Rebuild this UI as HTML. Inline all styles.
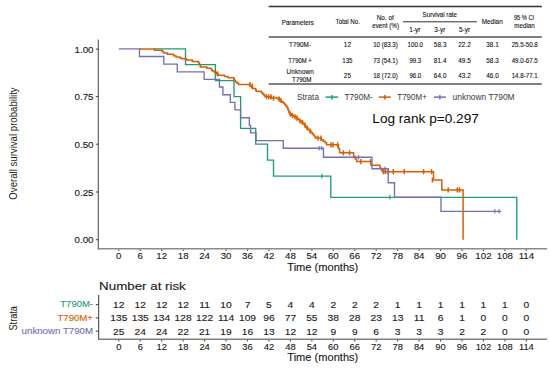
<!DOCTYPE html>
<html><head><meta charset="utf-8"><title>Kaplan-Meier</title>
<style>
html,body{margin:0;padding:0;background:#fff;}
body{width:550px;height:368px;overflow:hidden;}
svg{display:block;font-family:"Liberation Sans",sans-serif;}
</style></head>
<body>
<svg width="550" height="368" viewBox="0 0 550 368">
<rect width="550" height="368" fill="#fff"/>
<line x1="98.3" y1="39.5" x2="98.3" y2="249.6" stroke="#636363" stroke-width="1.2"/>
<line x1="97.7" y1="248.8" x2="547" y2="248.8" stroke="#8a8a8a" stroke-width="1.6"/>
<line x1="95.8" y1="49.1" x2="98.3" y2="49.1" stroke="#4d4d4d" stroke-width="1.1"/>
<text transform="translate(93.50,52.60) scale(1.0,1)" font-size="9.9" text-anchor="end" fill="#1a1a1a" textLength="19.00" lengthAdjust="spacingAndGlyphs" stroke="#1a1a1a" stroke-width="0.15">1.00</text>
<line x1="95.8" y1="96.5" x2="98.3" y2="96.5" stroke="#4d4d4d" stroke-width="1.1"/>
<text transform="translate(93.50,100.00) scale(1.0,1)" font-size="9.9" text-anchor="end" fill="#1a1a1a" textLength="19.00" lengthAdjust="spacingAndGlyphs" stroke="#1a1a1a" stroke-width="0.15">0.75</text>
<line x1="95.8" y1="144.2" x2="98.3" y2="144.2" stroke="#4d4d4d" stroke-width="1.1"/>
<text transform="translate(93.50,147.70) scale(1.0,1)" font-size="9.9" text-anchor="end" fill="#1a1a1a" textLength="19.00" lengthAdjust="spacingAndGlyphs" stroke="#1a1a1a" stroke-width="0.15">0.50</text>
<line x1="95.8" y1="192.0" x2="98.3" y2="192.0" stroke="#4d4d4d" stroke-width="1.1"/>
<text transform="translate(93.50,195.50) scale(1.0,1)" font-size="9.9" text-anchor="end" fill="#1a1a1a" textLength="19.00" lengthAdjust="spacingAndGlyphs" stroke="#1a1a1a" stroke-width="0.15">0.25</text>
<line x1="95.8" y1="239.7" x2="98.3" y2="239.7" stroke="#4d4d4d" stroke-width="1.1"/>
<text transform="translate(93.50,243.20) scale(1.0,1)" font-size="9.9" text-anchor="end" fill="#1a1a1a" textLength="19.00" lengthAdjust="spacingAndGlyphs" stroke="#1a1a1a" stroke-width="0.15">0.00</text>
<line x1="118.80" y1="249.6" x2="118.80" y2="251.0" stroke="#4d4d4d" stroke-width="1.1"/>
<text transform="translate(118.80,259.40) scale(1.09,1)" font-size="8.9" text-anchor="middle" fill="#1a1a1a" stroke="#1a1a1a" stroke-width="0.12">0</text>
<line x1="140.25" y1="249.6" x2="140.25" y2="251.0" stroke="#4d4d4d" stroke-width="1.1"/>
<text transform="translate(140.25,259.40) scale(1.09,1)" font-size="8.9" text-anchor="middle" fill="#1a1a1a" stroke="#1a1a1a" stroke-width="0.12">6</text>
<line x1="161.70" y1="249.6" x2="161.70" y2="251.0" stroke="#4d4d4d" stroke-width="1.1"/>
<text transform="translate(161.70,259.40) scale(1.09,1)" font-size="8.9" text-anchor="middle" fill="#1a1a1a" stroke="#1a1a1a" stroke-width="0.12">12</text>
<line x1="183.15" y1="249.6" x2="183.15" y2="251.0" stroke="#4d4d4d" stroke-width="1.1"/>
<text transform="translate(183.15,259.40) scale(1.09,1)" font-size="8.9" text-anchor="middle" fill="#1a1a1a" stroke="#1a1a1a" stroke-width="0.12">18</text>
<line x1="204.60" y1="249.6" x2="204.60" y2="251.0" stroke="#4d4d4d" stroke-width="1.1"/>
<text transform="translate(204.60,259.40) scale(1.09,1)" font-size="8.9" text-anchor="middle" fill="#1a1a1a" stroke="#1a1a1a" stroke-width="0.12">24</text>
<line x1="226.05" y1="249.6" x2="226.05" y2="251.0" stroke="#4d4d4d" stroke-width="1.1"/>
<text transform="translate(226.05,259.40) scale(1.09,1)" font-size="8.9" text-anchor="middle" fill="#1a1a1a" stroke="#1a1a1a" stroke-width="0.12">30</text>
<line x1="247.50" y1="249.6" x2="247.50" y2="251.0" stroke="#4d4d4d" stroke-width="1.1"/>
<text transform="translate(247.50,259.40) scale(1.09,1)" font-size="8.9" text-anchor="middle" fill="#1a1a1a" stroke="#1a1a1a" stroke-width="0.12">36</text>
<line x1="268.95" y1="249.6" x2="268.95" y2="251.0" stroke="#4d4d4d" stroke-width="1.1"/>
<text transform="translate(268.95,259.40) scale(1.09,1)" font-size="8.9" text-anchor="middle" fill="#1a1a1a" stroke="#1a1a1a" stroke-width="0.12">42</text>
<line x1="290.40" y1="249.6" x2="290.40" y2="251.0" stroke="#4d4d4d" stroke-width="1.1"/>
<text transform="translate(290.40,259.40) scale(1.09,1)" font-size="8.9" text-anchor="middle" fill="#1a1a1a" stroke="#1a1a1a" stroke-width="0.12">48</text>
<line x1="311.85" y1="249.6" x2="311.85" y2="251.0" stroke="#4d4d4d" stroke-width="1.1"/>
<text transform="translate(311.85,259.40) scale(1.09,1)" font-size="8.9" text-anchor="middle" fill="#1a1a1a" stroke="#1a1a1a" stroke-width="0.12">54</text>
<line x1="333.30" y1="249.6" x2="333.30" y2="251.0" stroke="#4d4d4d" stroke-width="1.1"/>
<text transform="translate(333.30,259.40) scale(1.09,1)" font-size="8.9" text-anchor="middle" fill="#1a1a1a" stroke="#1a1a1a" stroke-width="0.12">60</text>
<line x1="354.75" y1="249.6" x2="354.75" y2="251.0" stroke="#4d4d4d" stroke-width="1.1"/>
<text transform="translate(354.75,259.40) scale(1.09,1)" font-size="8.9" text-anchor="middle" fill="#1a1a1a" stroke="#1a1a1a" stroke-width="0.12">66</text>
<line x1="376.20" y1="249.6" x2="376.20" y2="251.0" stroke="#4d4d4d" stroke-width="1.1"/>
<text transform="translate(376.20,259.40) scale(1.09,1)" font-size="8.9" text-anchor="middle" fill="#1a1a1a" stroke="#1a1a1a" stroke-width="0.12">72</text>
<line x1="397.65" y1="249.6" x2="397.65" y2="251.0" stroke="#4d4d4d" stroke-width="1.1"/>
<text transform="translate(397.65,259.40) scale(1.09,1)" font-size="8.9" text-anchor="middle" fill="#1a1a1a" stroke="#1a1a1a" stroke-width="0.12">78</text>
<line x1="419.10" y1="249.6" x2="419.10" y2="251.0" stroke="#4d4d4d" stroke-width="1.1"/>
<text transform="translate(419.10,259.40) scale(1.09,1)" font-size="8.9" text-anchor="middle" fill="#1a1a1a" stroke="#1a1a1a" stroke-width="0.12">84</text>
<line x1="440.55" y1="249.6" x2="440.55" y2="251.0" stroke="#4d4d4d" stroke-width="1.1"/>
<text transform="translate(440.55,259.40) scale(1.09,1)" font-size="8.9" text-anchor="middle" fill="#1a1a1a" stroke="#1a1a1a" stroke-width="0.12">90</text>
<line x1="462.00" y1="249.6" x2="462.00" y2="251.0" stroke="#4d4d4d" stroke-width="1.1"/>
<text transform="translate(462.00,259.40) scale(1.09,1)" font-size="8.9" text-anchor="middle" fill="#1a1a1a" stroke="#1a1a1a" stroke-width="0.12">96</text>
<line x1="483.45" y1="249.6" x2="483.45" y2="251.0" stroke="#4d4d4d" stroke-width="1.1"/>
<text transform="translate(483.45,259.40) scale(1.09,1)" font-size="8.9" text-anchor="middle" fill="#1a1a1a" stroke="#1a1a1a" stroke-width="0.12">102</text>
<line x1="504.90" y1="249.6" x2="504.90" y2="251.0" stroke="#4d4d4d" stroke-width="1.1"/>
<text transform="translate(504.90,259.40) scale(1.09,1)" font-size="8.9" text-anchor="middle" fill="#1a1a1a" stroke="#1a1a1a" stroke-width="0.12">108</text>
<line x1="526.35" y1="249.6" x2="526.35" y2="251.0" stroke="#4d4d4d" stroke-width="1.1"/>
<text transform="translate(526.35,259.40) scale(1.09,1)" font-size="8.9" text-anchor="middle" fill="#1a1a1a" stroke="#1a1a1a" stroke-width="0.12">114</text>
<text transform="translate(17.2,143.5) rotate(-90) scale(1,1.17)" font-size="9.6" text-anchor="middle" fill="#1a1a1a" textLength="112.3" lengthAdjust="spacingAndGlyphs">Overall survival probability</text>
<text transform="translate(322.80,271.00) scale(1.09,1)" font-size="10.2" text-anchor="middle" fill="#1a1a1a" textLength="65.14" lengthAdjust="spacingAndGlyphs" stroke="#1a1a1a" stroke-width="0.12">Time (months)</text>
<path d="M154.00,48.90H185.50V64.60H215.40V80.60H234.00V96.60H240.60V128.30H255.70V144.10H267.50V160.10H273.50V176.10H330.80V197.30H516.80V239.70" fill="none" stroke="#1B9E77" stroke-width="1.35" stroke-linejoin="miter"/>
<path d="M321.80,173.80V178.40" stroke="#1B9E77" stroke-width="1.1"/>
<path d="M389.90,195.00V199.60" stroke="#1B9E77" stroke-width="1.1"/>
<path d="M139.00,48.90H154.50V50.20H162.30V51.60H163.60V53.00H167.50V54.30H173.50V55.70H176.00V57.00H180.00V57.90H181.80V58.80H186.40V60.10H192.30V61.40H198.50V62.80H199.30V64.20H200.00V65.60H200.50V67.00H206.80V68.30H211.40V69.70H212.30V71.10H214.50V72.50H216.50V74.00H218.20V75.20H224.50V76.50H228.00V77.80H233.80V79.20H234.50V80.60H235.50V82.00H237.00V83.30H238.60V84.50H250.00V86.00H251.50V87.40H252.70V88.60H255.70V90.00H256.20V91.30H261.40V92.70H262.70V94.10H264.00V95.50H265.00V96.80H271.00V98.00H278.20V99.20H279.80V100.50H281.50V101.80H283.20V103.00H284.60V104.50H285.80V106.00H287.00V107.60H287.80V109.20H288.40V110.80H289.00V112.40H289.60V114.00H291.50V115.40H294.00V116.80H296.40V118.20H298.00V119.60H299.50V121.00H301.20V122.40H303.00V123.80H304.50V125.20H305.30V126.60H306.50V128.00H308.00V129.50H309.50V131.00H311.00V132.50H312.30V134.00H313.50V135.50H314.60V137.00H316.00V138.20H321.20V139.80H323.20V141.30H325.10V142.80H326.60V144.80H338.40V148.50H339.60V152.80H353.60V156.50H355.20V159.00H356.60V161.60H371.00V165.20H380.00V168.30H381.50V170.20H382.50V171.70H433.50V180.10H441.80V189.90H463.10V239.70" fill="none" stroke="#D95F02" stroke-width="1.5" stroke-linejoin="miter"/>
<path d="M217.60,71.40V76.60" stroke="#D95F02" stroke-width="1.5"/>
<path d="M250.00,81.90V87.10" stroke="#D95F02" stroke-width="1.5"/>
<path d="M252.30,83.40V88.60" stroke="#D95F02" stroke-width="1.5"/>
<path d="M266.50,94.20V99.40" stroke="#D95F02" stroke-width="1.5"/>
<path d="M268.80,94.20V99.40" stroke="#D95F02" stroke-width="1.5"/>
<path d="M271.00,94.20V99.40" stroke="#D95F02" stroke-width="1.5"/>
<path d="M273.50,95.60V100.80" stroke="#D95F02" stroke-width="1.5"/>
<path d="M279.20,96.60V101.80" stroke="#D95F02" stroke-width="1.5"/>
<path d="M281.00,97.90V103.10" stroke="#D95F02" stroke-width="1.5"/>
<path d="M290.30,111.40V116.60" stroke="#D95F02" stroke-width="1.5"/>
<path d="M292.50,112.80V118.00" stroke="#D95F02" stroke-width="1.5"/>
<path d="M295.00,114.20V119.40" stroke="#D95F02" stroke-width="1.5"/>
<path d="M297.00,115.60V120.80" stroke="#D95F02" stroke-width="1.5"/>
<path d="M300.00,118.40V123.60" stroke="#D95F02" stroke-width="1.5"/>
<path d="M302.50,119.80V125.00" stroke="#D95F02" stroke-width="1.5"/>
<path d="M305.00,122.60V127.80" stroke="#D95F02" stroke-width="1.5"/>
<path d="M307.20,125.40V130.60" stroke="#D95F02" stroke-width="1.5"/>
<path d="M310.00,128.40V133.60" stroke="#D95F02" stroke-width="1.5"/>
<path d="M318.00,135.60V140.80" stroke="#D95F02" stroke-width="1.5"/>
<path d="M320.90,135.60V140.80" stroke="#D95F02" stroke-width="1.5"/>
<path d="M331.00,142.20V147.40" stroke="#D95F02" stroke-width="1.5"/>
<path d="M333.00,142.20V147.40" stroke="#D95F02" stroke-width="1.5"/>
<path d="M337.60,142.20V147.40" stroke="#D95F02" stroke-width="1.5"/>
<path d="M343.30,150.20V155.40" stroke="#D95F02" stroke-width="1.5"/>
<path d="M349.60,150.20V155.40" stroke="#D95F02" stroke-width="1.5"/>
<path d="M360.90,159.00V164.20" stroke="#D95F02" stroke-width="1.5"/>
<path d="M370.50,159.00V164.20" stroke="#D95F02" stroke-width="1.5"/>
<path d="M383.50,169.10V174.30" stroke="#D95F02" stroke-width="1.5"/>
<path d="M385.50,169.10V174.30" stroke="#D95F02" stroke-width="1.5"/>
<path d="M388.20,169.10V174.30" stroke="#D95F02" stroke-width="1.5"/>
<path d="M393.30,169.10V174.30" stroke="#D95F02" stroke-width="1.5"/>
<path d="M404.20,169.10V174.30" stroke="#D95F02" stroke-width="1.5"/>
<path d="M423.60,169.10V174.30" stroke="#D95F02" stroke-width="1.5"/>
<path d="M431.60,169.10V174.30" stroke="#D95F02" stroke-width="1.5"/>
<path d="M432.40,177.50V182.70" stroke="#D95F02" stroke-width="1.5"/>
<path d="M448.20,187.30V192.50" stroke="#D95F02" stroke-width="1.5"/>
<path d="M457.30,187.30V192.50" stroke="#D95F02" stroke-width="1.5"/>
<path d="M459.50,187.30V192.50" stroke="#D95F02" stroke-width="1.5"/>
<path d="M118.80,48.90H139.50V56.50H163.80V64.10H177.30V71.80H204.10V79.40H219.40V87.00H222.90V94.70H230.30V102.30H234.90V109.90H240.60V117.70H249.30V125.30H250.60V132.90H256.10V140.60H283.30V148.20H323.50V157.20H372.00V168.70H388.20V182.70H394.50V197.20H441.00V211.30H501.30" fill="none" stroke="#7570B3" stroke-width="1.35" stroke-linejoin="miter"/>
<path d="M319.10,145.90V150.50" stroke="#7570B3" stroke-width="1.1"/>
<path d="M321.80,145.90V150.50" stroke="#7570B3" stroke-width="1.1"/>
<path d="M358.60,154.90V159.50" stroke="#7570B3" stroke-width="1.1"/>
<path d="M385.00,166.40V171.00" stroke="#7570B3" stroke-width="1.1"/>
<path d="M494.90,209.00V213.60" stroke="#7570B3" stroke-width="1.1"/>
<path d="M499.10,209.00V213.60" stroke="#7570B3" stroke-width="1.1"/>
<text transform="translate(297.00,99.80) scale(1.09,1)" font-size="8.6" text-anchor="start" fill="#3a3a3a" textLength="20.18" lengthAdjust="spacingAndGlyphs">Strata</text>
<path d="M325.6,97.1H338.1" stroke="#1B9E77" stroke-width="1.5"/>
<path d="M331.85,94.9V99.4" stroke="#1B9E77" stroke-width="1.5"/>
<text transform="translate(344.50,99.80) scale(1.09,1)" font-size="8.6" text-anchor="start" fill="#3a3a3a" textLength="25.96" lengthAdjust="spacingAndGlyphs">T790M-</text>
<path d="M378.8,97.1H390.9" stroke="#D95F02" stroke-width="1.5"/>
<path d="M384.85,94.9V99.4" stroke="#D95F02" stroke-width="1.5"/>
<text transform="translate(397.30,99.80) scale(1.09,1)" font-size="8.6" text-anchor="start" fill="#3a3a3a" textLength="27.06" lengthAdjust="spacingAndGlyphs">T790M+</text>
<path d="M433.8,97.1H445.9" stroke="#7570B3" stroke-width="1.5"/>
<path d="M439.85,94.9V99.4" stroke="#7570B3" stroke-width="1.5"/>
<text transform="translate(452.60,99.80) scale(1.09,1)" font-size="8.6" text-anchor="start" fill="#3a3a3a" textLength="56.88" lengthAdjust="spacingAndGlyphs">unknown T790M</text>
<text transform="translate(372.30,123.00) scale(1.09,1)" font-size="13.6" text-anchor="start" fill="#0a0a0a" textLength="97.71" lengthAdjust="spacingAndGlyphs">Log rank p=0.297</text>
<rect x="267" y="0" width="283" height="86" fill="#fff"/>
<path d="M268.7,6.5H541.8" stroke="#333" stroke-width="1.4"/>
<path d="M402.9,21.8H477" stroke="#333" stroke-width="1.0"/>
<path d="M268.7,37H541.8" stroke="#555" stroke-width="1.6"/>
<path d="M268.7,84H541.8" stroke="#555" stroke-width="1.5"/>
<text transform="translate(297.80,24.70) scale(1.0,1)" font-size="6.35" text-anchor="middle" fill="#111" textLength="32.00" lengthAdjust="spacingAndGlyphs" stroke="#111" stroke-width="0.1">Parameters</text>
<text transform="translate(347.70,24.20) scale(1.0,1)" font-size="6.35" text-anchor="middle" fill="#111" textLength="24.30" lengthAdjust="spacingAndGlyphs" stroke="#111" stroke-width="0.1">Total No.</text>
<text transform="translate(385.20,19.60) scale(1.0,1)" font-size="6.35" text-anchor="middle" fill="#111" textLength="17.00" lengthAdjust="spacing" stroke="#111" stroke-width="0.1">No. of</text>
<text transform="translate(385.60,28.40) scale(1.0,1)" font-size="6.35" text-anchor="middle" fill="#111" textLength="26.80" lengthAdjust="spacingAndGlyphs" stroke="#111" stroke-width="0.1">event (%)</text>
<text transform="translate(439.80,17.00) scale(1.0,1)" font-size="6.35" text-anchor="middle" fill="#111" textLength="34.50" lengthAdjust="spacingAndGlyphs" stroke="#111" stroke-width="0.1">Survival rate</text>
<text transform="translate(414.90,31.60) scale(1.0,1)" font-size="6.6" text-anchor="middle" fill="#111" textLength="11.20" lengthAdjust="spacingAndGlyphs" stroke="#111" stroke-width="0.12">1-yr</text>
<text transform="translate(439.90,31.60) scale(1.0,1)" font-size="6.6" text-anchor="middle" fill="#111" textLength="11.20" lengthAdjust="spacingAndGlyphs" stroke="#111" stroke-width="0.12">3-yr</text>
<text transform="translate(464.60,31.60) scale(1.0,1)" font-size="6.6" text-anchor="middle" fill="#111" textLength="11.20" lengthAdjust="spacingAndGlyphs" stroke="#111" stroke-width="0.12">5-yr</text>
<text transform="translate(492.20,24.20) scale(1.0,1)" font-size="6.35" text-anchor="middle" fill="#111" textLength="21.10" lengthAdjust="spacing" stroke="#111" stroke-width="0.1">Median</text>
<text transform="translate(524.00,19.60) scale(1.0,1)" font-size="6.35" text-anchor="middle" fill="#111" textLength="20.10" lengthAdjust="spacingAndGlyphs" stroke="#111" stroke-width="0.1">95 % CI</text>
<text transform="translate(524.50,27.90) scale(1.0,1)" font-size="6.35" text-anchor="middle" fill="#111" textLength="20.30" lengthAdjust="spacingAndGlyphs" stroke="#111" stroke-width="0.1">median</text>
<text transform="translate(300.00,47.40) scale(1.0,1)" font-size="6.35" text-anchor="middle" fill="#111" textLength="21.80" lengthAdjust="spacingAndGlyphs" stroke="#111" stroke-width="0.1">T790M-</text>
<text transform="translate(347.40,47.40) scale(1.0,1)" font-size="6.35" text-anchor="middle" fill="#111" textLength="7.20" lengthAdjust="spacing" stroke="#111" stroke-width="0.1">12</text>
<text transform="translate(385.50,47.40) scale(1.0,1)" font-size="6.35" text-anchor="middle" fill="#111" textLength="24.70" lengthAdjust="spacingAndGlyphs" stroke="#111" stroke-width="0.1">10 (83.3)</text>
<text transform="translate(415.30,47.40) scale(1.0,1)" font-size="6.35" text-anchor="middle" fill="#111" textLength="15.50" lengthAdjust="spacingAndGlyphs" stroke="#111" stroke-width="0.1">100.0</text>
<text transform="translate(440.10,47.40) scale(1.0,1)" font-size="6.35" text-anchor="middle" fill="#111" textLength="12.80" lengthAdjust="spacing" stroke="#111" stroke-width="0.1">58.3</text>
<text transform="translate(464.50,47.40) scale(1.0,1)" font-size="6.35" text-anchor="middle" fill="#111" textLength="12.50" lengthAdjust="spacing" stroke="#111" stroke-width="0.1">22.2</text>
<text transform="translate(492.50,47.40) scale(1.0,1)" font-size="6.35" text-anchor="middle" fill="#111" textLength="12.50" lengthAdjust="spacing" stroke="#111" stroke-width="0.1">38.1</text>
<text transform="translate(524.70,47.40) scale(1.0,1)" font-size="6.35" text-anchor="middle" fill="#111" textLength="26.00" lengthAdjust="spacingAndGlyphs" stroke="#111" stroke-width="0.1">25.5-50.8</text>
<text transform="translate(300.00,62.90) scale(1.0,1)" font-size="6.35" text-anchor="middle" fill="#111" textLength="23.60" lengthAdjust="spacingAndGlyphs" stroke="#111" stroke-width="0.1">T790M +</text>
<text transform="translate(347.40,62.90) scale(1.0,1)" font-size="6.35" text-anchor="middle" fill="#111" textLength="10.30" lengthAdjust="spacingAndGlyphs" stroke="#111" stroke-width="0.1">135</text>
<text transform="translate(385.50,62.90) scale(1.0,1)" font-size="6.35" text-anchor="middle" fill="#111" textLength="24.70" lengthAdjust="spacingAndGlyphs" stroke="#111" stroke-width="0.1">73 (54.1)</text>
<text transform="translate(415.30,62.90) scale(1.0,1)" font-size="6.35" text-anchor="middle" fill="#111" textLength="11.80" lengthAdjust="spacingAndGlyphs" stroke="#111" stroke-width="0.1">99.3</text>
<text transform="translate(440.10,62.90) scale(1.0,1)" font-size="6.35" text-anchor="middle" fill="#111" textLength="12.80" lengthAdjust="spacing" stroke="#111" stroke-width="0.1">81.4</text>
<text transform="translate(464.50,62.90) scale(1.0,1)" font-size="6.35" text-anchor="middle" fill="#111" textLength="12.50" lengthAdjust="spacing" stroke="#111" stroke-width="0.1">49.5</text>
<text transform="translate(492.50,62.90) scale(1.0,1)" font-size="6.35" text-anchor="middle" fill="#111" textLength="12.50" lengthAdjust="spacing" stroke="#111" stroke-width="0.1">58.3</text>
<text transform="translate(524.70,62.90) scale(1.0,1)" font-size="6.35" text-anchor="middle" fill="#111" textLength="26.00" lengthAdjust="spacingAndGlyphs" stroke="#111" stroke-width="0.1">49.0-67.5</text>
<text transform="translate(347.40,78.00) scale(1.0,1)" font-size="6.35" text-anchor="middle" fill="#111" textLength="7.20" lengthAdjust="spacing" stroke="#111" stroke-width="0.1">25</text>
<text transform="translate(385.50,78.00) scale(1.0,1)" font-size="6.35" text-anchor="middle" fill="#111" textLength="24.70" lengthAdjust="spacingAndGlyphs" stroke="#111" stroke-width="0.1">18 (72.0)</text>
<text transform="translate(415.30,78.00) scale(1.0,1)" font-size="6.35" text-anchor="middle" fill="#111" textLength="11.80" lengthAdjust="spacingAndGlyphs" stroke="#111" stroke-width="0.1">96.0</text>
<text transform="translate(440.10,78.00) scale(1.0,1)" font-size="6.35" text-anchor="middle" fill="#111" textLength="12.80" lengthAdjust="spacing" stroke="#111" stroke-width="0.1">64.0</text>
<text transform="translate(464.50,78.00) scale(1.0,1)" font-size="6.35" text-anchor="middle" fill="#111" textLength="12.50" lengthAdjust="spacing" stroke="#111" stroke-width="0.1">43.2</text>
<text transform="translate(492.50,78.00) scale(1.0,1)" font-size="6.35" text-anchor="middle" fill="#111" textLength="12.50" lengthAdjust="spacing" stroke="#111" stroke-width="0.1">46.0</text>
<text transform="translate(524.70,78.00) scale(1.0,1)" font-size="6.35" text-anchor="middle" fill="#111" textLength="26.00" lengthAdjust="spacingAndGlyphs" stroke="#111" stroke-width="0.1">14.8-77.1</text>
<text transform="translate(300.20,74.30) scale(1.0,1)" font-size="6.35" text-anchor="middle" fill="#111" textLength="27.20" lengthAdjust="spacing" stroke="#111" stroke-width="0.1">Unknown</text>
<text transform="translate(301.80,81.80) scale(1.0,1)" font-size="6.35" text-anchor="middle" fill="#111" textLength="19.60" lengthAdjust="spacingAndGlyphs" stroke="#111" stroke-width="0.1">T790M</text>
<text transform="translate(99.10,289.60) scale(1.09,1)" font-size="11.4" text-anchor="start" fill="#1a1a1a" textLength="79.54" lengthAdjust="spacingAndGlyphs" stroke="#1a1a1a" stroke-width="0.12">Number at risk</text>
<line x1="98.6" y1="295" x2="98.6" y2="339.8" stroke="#5a5a5a" stroke-width="1.2"/>
<line x1="98.0" y1="339.2" x2="547" y2="339.2" stroke="#808080" stroke-width="1.4"/>
<line x1="95.8" y1="304.6" x2="98.6" y2="304.6" stroke="#4d4d4d" stroke-width="1.1"/>
<text transform="translate(93.00,307.30) scale(1.09,1)" font-size="9.0" text-anchor="end" fill="#1B9E77" textLength="30.00" lengthAdjust="spacingAndGlyphs" stroke="#1B9E77" stroke-width="0.12">T790M-</text>
<text transform="translate(118.80,308.00) scale(1.09,1)" font-size="9.4" text-anchor="middle" fill="#1a1a1a" stroke="#1a1a1a" stroke-width="0.12">12</text>
<text transform="translate(140.25,308.00) scale(1.09,1)" font-size="9.4" text-anchor="middle" fill="#1a1a1a" stroke="#1a1a1a" stroke-width="0.12">12</text>
<text transform="translate(161.70,308.00) scale(1.09,1)" font-size="9.4" text-anchor="middle" fill="#1a1a1a" stroke="#1a1a1a" stroke-width="0.12">12</text>
<text transform="translate(183.15,308.00) scale(1.09,1)" font-size="9.4" text-anchor="middle" fill="#1a1a1a" stroke="#1a1a1a" stroke-width="0.12">12</text>
<text transform="translate(204.60,308.00) scale(1.09,1)" font-size="9.4" text-anchor="middle" fill="#1a1a1a" stroke="#1a1a1a" stroke-width="0.12">11</text>
<text transform="translate(226.05,308.00) scale(1.09,1)" font-size="9.4" text-anchor="middle" fill="#1a1a1a" stroke="#1a1a1a" stroke-width="0.12">10</text>
<text transform="translate(247.50,308.00) scale(1.09,1)" font-size="9.4" text-anchor="middle" fill="#1a1a1a" stroke="#1a1a1a" stroke-width="0.12">7</text>
<text transform="translate(268.95,308.00) scale(1.09,1)" font-size="9.4" text-anchor="middle" fill="#1a1a1a" stroke="#1a1a1a" stroke-width="0.12">5</text>
<text transform="translate(290.40,308.00) scale(1.09,1)" font-size="9.4" text-anchor="middle" fill="#1a1a1a" stroke="#1a1a1a" stroke-width="0.12">4</text>
<text transform="translate(311.85,308.00) scale(1.09,1)" font-size="9.4" text-anchor="middle" fill="#1a1a1a" stroke="#1a1a1a" stroke-width="0.12">4</text>
<text transform="translate(333.30,308.00) scale(1.09,1)" font-size="9.4" text-anchor="middle" fill="#1a1a1a" stroke="#1a1a1a" stroke-width="0.12">2</text>
<text transform="translate(354.75,308.00) scale(1.09,1)" font-size="9.4" text-anchor="middle" fill="#1a1a1a" stroke="#1a1a1a" stroke-width="0.12">2</text>
<text transform="translate(376.20,308.00) scale(1.09,1)" font-size="9.4" text-anchor="middle" fill="#1a1a1a" stroke="#1a1a1a" stroke-width="0.12">2</text>
<text transform="translate(397.65,308.00) scale(1.09,1)" font-size="9.4" text-anchor="middle" fill="#1a1a1a" stroke="#1a1a1a" stroke-width="0.12">1</text>
<text transform="translate(419.10,308.00) scale(1.09,1)" font-size="9.4" text-anchor="middle" fill="#1a1a1a" stroke="#1a1a1a" stroke-width="0.12">1</text>
<text transform="translate(440.55,308.00) scale(1.09,1)" font-size="9.4" text-anchor="middle" fill="#1a1a1a" stroke="#1a1a1a" stroke-width="0.12">1</text>
<text transform="translate(462.00,308.00) scale(1.09,1)" font-size="9.4" text-anchor="middle" fill="#1a1a1a" stroke="#1a1a1a" stroke-width="0.12">1</text>
<text transform="translate(483.45,308.00) scale(1.09,1)" font-size="9.4" text-anchor="middle" fill="#1a1a1a" stroke="#1a1a1a" stroke-width="0.12">1</text>
<text transform="translate(504.90,308.00) scale(1.09,1)" font-size="9.4" text-anchor="middle" fill="#1a1a1a" stroke="#1a1a1a" stroke-width="0.12">1</text>
<text transform="translate(526.35,308.00) scale(1.09,1)" font-size="9.4" text-anchor="middle" fill="#1a1a1a" stroke="#1a1a1a" stroke-width="0.12">0</text>
<line x1="95.8" y1="317.9" x2="98.6" y2="317.9" stroke="#4d4d4d" stroke-width="1.1"/>
<text transform="translate(93.00,320.60) scale(1.09,1)" font-size="9.0" text-anchor="end" fill="#D95F02" textLength="32.66" lengthAdjust="spacingAndGlyphs" stroke="#D95F02" stroke-width="0.12">T790M+</text>
<text transform="translate(118.80,321.30) scale(1.09,1)" font-size="9.4" text-anchor="middle" fill="#1a1a1a" stroke="#1a1a1a" stroke-width="0.12">135</text>
<text transform="translate(140.25,321.30) scale(1.09,1)" font-size="9.4" text-anchor="middle" fill="#1a1a1a" stroke="#1a1a1a" stroke-width="0.12">135</text>
<text transform="translate(161.70,321.30) scale(1.09,1)" font-size="9.4" text-anchor="middle" fill="#1a1a1a" stroke="#1a1a1a" stroke-width="0.12">134</text>
<text transform="translate(183.15,321.30) scale(1.09,1)" font-size="9.4" text-anchor="middle" fill="#1a1a1a" stroke="#1a1a1a" stroke-width="0.12">128</text>
<text transform="translate(204.60,321.30) scale(1.09,1)" font-size="9.4" text-anchor="middle" fill="#1a1a1a" stroke="#1a1a1a" stroke-width="0.12">122</text>
<text transform="translate(226.05,321.30) scale(1.09,1)" font-size="9.4" text-anchor="middle" fill="#1a1a1a" stroke="#1a1a1a" stroke-width="0.12">114</text>
<text transform="translate(247.50,321.30) scale(1.09,1)" font-size="9.4" text-anchor="middle" fill="#1a1a1a" stroke="#1a1a1a" stroke-width="0.12">109</text>
<text transform="translate(268.95,321.30) scale(1.09,1)" font-size="9.4" text-anchor="middle" fill="#1a1a1a" stroke="#1a1a1a" stroke-width="0.12">96</text>
<text transform="translate(290.40,321.30) scale(1.09,1)" font-size="9.4" text-anchor="middle" fill="#1a1a1a" stroke="#1a1a1a" stroke-width="0.12">77</text>
<text transform="translate(311.85,321.30) scale(1.09,1)" font-size="9.4" text-anchor="middle" fill="#1a1a1a" stroke="#1a1a1a" stroke-width="0.12">55</text>
<text transform="translate(333.30,321.30) scale(1.09,1)" font-size="9.4" text-anchor="middle" fill="#1a1a1a" stroke="#1a1a1a" stroke-width="0.12">38</text>
<text transform="translate(354.75,321.30) scale(1.09,1)" font-size="9.4" text-anchor="middle" fill="#1a1a1a" stroke="#1a1a1a" stroke-width="0.12">28</text>
<text transform="translate(376.20,321.30) scale(1.09,1)" font-size="9.4" text-anchor="middle" fill="#1a1a1a" stroke="#1a1a1a" stroke-width="0.12">23</text>
<text transform="translate(397.65,321.30) scale(1.09,1)" font-size="9.4" text-anchor="middle" fill="#1a1a1a" stroke="#1a1a1a" stroke-width="0.12">13</text>
<text transform="translate(419.10,321.30) scale(1.09,1)" font-size="9.4" text-anchor="middle" fill="#1a1a1a" stroke="#1a1a1a" stroke-width="0.12">11</text>
<text transform="translate(440.55,321.30) scale(1.09,1)" font-size="9.4" text-anchor="middle" fill="#1a1a1a" stroke="#1a1a1a" stroke-width="0.12">6</text>
<text transform="translate(462.00,321.30) scale(1.09,1)" font-size="9.4" text-anchor="middle" fill="#1a1a1a" stroke="#1a1a1a" stroke-width="0.12">1</text>
<text transform="translate(483.45,321.30) scale(1.09,1)" font-size="9.4" text-anchor="middle" fill="#1a1a1a" stroke="#1a1a1a" stroke-width="0.12">0</text>
<text transform="translate(504.90,321.30) scale(1.09,1)" font-size="9.4" text-anchor="middle" fill="#1a1a1a" stroke="#1a1a1a" stroke-width="0.12">0</text>
<text transform="translate(526.35,321.30) scale(1.09,1)" font-size="9.4" text-anchor="middle" fill="#1a1a1a" stroke="#1a1a1a" stroke-width="0.12">0</text>
<line x1="95.8" y1="331.1" x2="98.6" y2="331.1" stroke="#4d4d4d" stroke-width="1.1"/>
<text transform="translate(93.00,333.80) scale(1.09,1)" font-size="9.0" text-anchor="end" fill="#7570B3" textLength="65.50" lengthAdjust="spacingAndGlyphs" stroke="#7570B3" stroke-width="0.12">unknown T790M</text>
<text transform="translate(118.80,334.50) scale(1.09,1)" font-size="9.4" text-anchor="middle" fill="#1a1a1a" stroke="#1a1a1a" stroke-width="0.12">25</text>
<text transform="translate(140.25,334.50) scale(1.09,1)" font-size="9.4" text-anchor="middle" fill="#1a1a1a" stroke="#1a1a1a" stroke-width="0.12">24</text>
<text transform="translate(161.70,334.50) scale(1.09,1)" font-size="9.4" text-anchor="middle" fill="#1a1a1a" stroke="#1a1a1a" stroke-width="0.12">24</text>
<text transform="translate(183.15,334.50) scale(1.09,1)" font-size="9.4" text-anchor="middle" fill="#1a1a1a" stroke="#1a1a1a" stroke-width="0.12">22</text>
<text transform="translate(204.60,334.50) scale(1.09,1)" font-size="9.4" text-anchor="middle" fill="#1a1a1a" stroke="#1a1a1a" stroke-width="0.12">21</text>
<text transform="translate(226.05,334.50) scale(1.09,1)" font-size="9.4" text-anchor="middle" fill="#1a1a1a" stroke="#1a1a1a" stroke-width="0.12">19</text>
<text transform="translate(247.50,334.50) scale(1.09,1)" font-size="9.4" text-anchor="middle" fill="#1a1a1a" stroke="#1a1a1a" stroke-width="0.12">16</text>
<text transform="translate(268.95,334.50) scale(1.09,1)" font-size="9.4" text-anchor="middle" fill="#1a1a1a" stroke="#1a1a1a" stroke-width="0.12">13</text>
<text transform="translate(290.40,334.50) scale(1.09,1)" font-size="9.4" text-anchor="middle" fill="#1a1a1a" stroke="#1a1a1a" stroke-width="0.12">12</text>
<text transform="translate(311.85,334.50) scale(1.09,1)" font-size="9.4" text-anchor="middle" fill="#1a1a1a" stroke="#1a1a1a" stroke-width="0.12">12</text>
<text transform="translate(333.30,334.50) scale(1.09,1)" font-size="9.4" text-anchor="middle" fill="#1a1a1a" stroke="#1a1a1a" stroke-width="0.12">9</text>
<text transform="translate(354.75,334.50) scale(1.09,1)" font-size="9.4" text-anchor="middle" fill="#1a1a1a" stroke="#1a1a1a" stroke-width="0.12">9</text>
<text transform="translate(376.20,334.50) scale(1.09,1)" font-size="9.4" text-anchor="middle" fill="#1a1a1a" stroke="#1a1a1a" stroke-width="0.12">6</text>
<text transform="translate(397.65,334.50) scale(1.09,1)" font-size="9.4" text-anchor="middle" fill="#1a1a1a" stroke="#1a1a1a" stroke-width="0.12">3</text>
<text transform="translate(419.10,334.50) scale(1.09,1)" font-size="9.4" text-anchor="middle" fill="#1a1a1a" stroke="#1a1a1a" stroke-width="0.12">3</text>
<text transform="translate(440.55,334.50) scale(1.09,1)" font-size="9.4" text-anchor="middle" fill="#1a1a1a" stroke="#1a1a1a" stroke-width="0.12">3</text>
<text transform="translate(462.00,334.50) scale(1.09,1)" font-size="9.4" text-anchor="middle" fill="#1a1a1a" stroke="#1a1a1a" stroke-width="0.12">2</text>
<text transform="translate(483.45,334.50) scale(1.09,1)" font-size="9.4" text-anchor="middle" fill="#1a1a1a" stroke="#1a1a1a" stroke-width="0.12">2</text>
<text transform="translate(504.90,334.50) scale(1.09,1)" font-size="9.4" text-anchor="middle" fill="#1a1a1a" stroke="#1a1a1a" stroke-width="0.12">0</text>
<text transform="translate(526.35,334.50) scale(1.09,1)" font-size="9.4" text-anchor="middle" fill="#1a1a1a" stroke="#1a1a1a" stroke-width="0.12">0</text>
<line x1="118.80" y1="339.8" x2="118.80" y2="341.4" stroke="#4d4d4d" stroke-width="1.1"/>
<text transform="translate(118.80,349.90) scale(1.09,1)" font-size="8.6" text-anchor="middle" fill="#1a1a1a" stroke="#1a1a1a" stroke-width="0.12">0</text>
<line x1="140.25" y1="339.8" x2="140.25" y2="341.4" stroke="#4d4d4d" stroke-width="1.1"/>
<text transform="translate(140.25,349.90) scale(1.09,1)" font-size="8.6" text-anchor="middle" fill="#1a1a1a" stroke="#1a1a1a" stroke-width="0.12">6</text>
<line x1="161.70" y1="339.8" x2="161.70" y2="341.4" stroke="#4d4d4d" stroke-width="1.1"/>
<text transform="translate(161.70,349.90) scale(1.09,1)" font-size="8.6" text-anchor="middle" fill="#1a1a1a" stroke="#1a1a1a" stroke-width="0.12">12</text>
<line x1="183.15" y1="339.8" x2="183.15" y2="341.4" stroke="#4d4d4d" stroke-width="1.1"/>
<text transform="translate(183.15,349.90) scale(1.09,1)" font-size="8.6" text-anchor="middle" fill="#1a1a1a" stroke="#1a1a1a" stroke-width="0.12">18</text>
<line x1="204.60" y1="339.8" x2="204.60" y2="341.4" stroke="#4d4d4d" stroke-width="1.1"/>
<text transform="translate(204.60,349.90) scale(1.09,1)" font-size="8.6" text-anchor="middle" fill="#1a1a1a" stroke="#1a1a1a" stroke-width="0.12">24</text>
<line x1="226.05" y1="339.8" x2="226.05" y2="341.4" stroke="#4d4d4d" stroke-width="1.1"/>
<text transform="translate(226.05,349.90) scale(1.09,1)" font-size="8.6" text-anchor="middle" fill="#1a1a1a" stroke="#1a1a1a" stroke-width="0.12">30</text>
<line x1="247.50" y1="339.8" x2="247.50" y2="341.4" stroke="#4d4d4d" stroke-width="1.1"/>
<text transform="translate(247.50,349.90) scale(1.09,1)" font-size="8.6" text-anchor="middle" fill="#1a1a1a" stroke="#1a1a1a" stroke-width="0.12">36</text>
<line x1="268.95" y1="339.8" x2="268.95" y2="341.4" stroke="#4d4d4d" stroke-width="1.1"/>
<text transform="translate(268.95,349.90) scale(1.09,1)" font-size="8.6" text-anchor="middle" fill="#1a1a1a" stroke="#1a1a1a" stroke-width="0.12">42</text>
<line x1="290.40" y1="339.8" x2="290.40" y2="341.4" stroke="#4d4d4d" stroke-width="1.1"/>
<text transform="translate(290.40,349.90) scale(1.09,1)" font-size="8.6" text-anchor="middle" fill="#1a1a1a" stroke="#1a1a1a" stroke-width="0.12">48</text>
<line x1="311.85" y1="339.8" x2="311.85" y2="341.4" stroke="#4d4d4d" stroke-width="1.1"/>
<text transform="translate(311.85,349.90) scale(1.09,1)" font-size="8.6" text-anchor="middle" fill="#1a1a1a" stroke="#1a1a1a" stroke-width="0.12">54</text>
<line x1="333.30" y1="339.8" x2="333.30" y2="341.4" stroke="#4d4d4d" stroke-width="1.1"/>
<text transform="translate(333.30,349.90) scale(1.09,1)" font-size="8.6" text-anchor="middle" fill="#1a1a1a" stroke="#1a1a1a" stroke-width="0.12">60</text>
<line x1="354.75" y1="339.8" x2="354.75" y2="341.4" stroke="#4d4d4d" stroke-width="1.1"/>
<text transform="translate(354.75,349.90) scale(1.09,1)" font-size="8.6" text-anchor="middle" fill="#1a1a1a" stroke="#1a1a1a" stroke-width="0.12">66</text>
<line x1="376.20" y1="339.8" x2="376.20" y2="341.4" stroke="#4d4d4d" stroke-width="1.1"/>
<text transform="translate(376.20,349.90) scale(1.09,1)" font-size="8.6" text-anchor="middle" fill="#1a1a1a" stroke="#1a1a1a" stroke-width="0.12">72</text>
<line x1="397.65" y1="339.8" x2="397.65" y2="341.4" stroke="#4d4d4d" stroke-width="1.1"/>
<text transform="translate(397.65,349.90) scale(1.09,1)" font-size="8.6" text-anchor="middle" fill="#1a1a1a" stroke="#1a1a1a" stroke-width="0.12">78</text>
<line x1="419.10" y1="339.8" x2="419.10" y2="341.4" stroke="#4d4d4d" stroke-width="1.1"/>
<text transform="translate(419.10,349.90) scale(1.09,1)" font-size="8.6" text-anchor="middle" fill="#1a1a1a" stroke="#1a1a1a" stroke-width="0.12">84</text>
<line x1="440.55" y1="339.8" x2="440.55" y2="341.4" stroke="#4d4d4d" stroke-width="1.1"/>
<text transform="translate(440.55,349.90) scale(1.09,1)" font-size="8.6" text-anchor="middle" fill="#1a1a1a" stroke="#1a1a1a" stroke-width="0.12">90</text>
<line x1="462.00" y1="339.8" x2="462.00" y2="341.4" stroke="#4d4d4d" stroke-width="1.1"/>
<text transform="translate(462.00,349.90) scale(1.09,1)" font-size="8.6" text-anchor="middle" fill="#1a1a1a" stroke="#1a1a1a" stroke-width="0.12">96</text>
<line x1="483.45" y1="339.8" x2="483.45" y2="341.4" stroke="#4d4d4d" stroke-width="1.1"/>
<text transform="translate(483.45,349.90) scale(1.09,1)" font-size="8.6" text-anchor="middle" fill="#1a1a1a" stroke="#1a1a1a" stroke-width="0.12">102</text>
<line x1="504.90" y1="339.8" x2="504.90" y2="341.4" stroke="#4d4d4d" stroke-width="1.1"/>
<text transform="translate(504.90,349.90) scale(1.09,1)" font-size="8.6" text-anchor="middle" fill="#1a1a1a" stroke="#1a1a1a" stroke-width="0.12">108</text>
<line x1="526.35" y1="339.8" x2="526.35" y2="341.4" stroke="#4d4d4d" stroke-width="1.1"/>
<text transform="translate(526.35,349.90) scale(1.09,1)" font-size="8.6" text-anchor="middle" fill="#1a1a1a" stroke="#1a1a1a" stroke-width="0.12">114</text>
<text transform="translate(322.80,361.20) scale(1.09,1)" font-size="10.3" text-anchor="middle" fill="#1a1a1a" textLength="65.14" lengthAdjust="spacingAndGlyphs" stroke="#1a1a1a" stroke-width="0.12">Time (months)</text>
<text transform="translate(17.3,318.3) rotate(-90) scale(1,1.09)" font-size="9.2" text-anchor="middle" fill="#1a1a1a" textLength="24.5" lengthAdjust="spacingAndGlyphs">Strata</text>
</svg>
</body></html>
